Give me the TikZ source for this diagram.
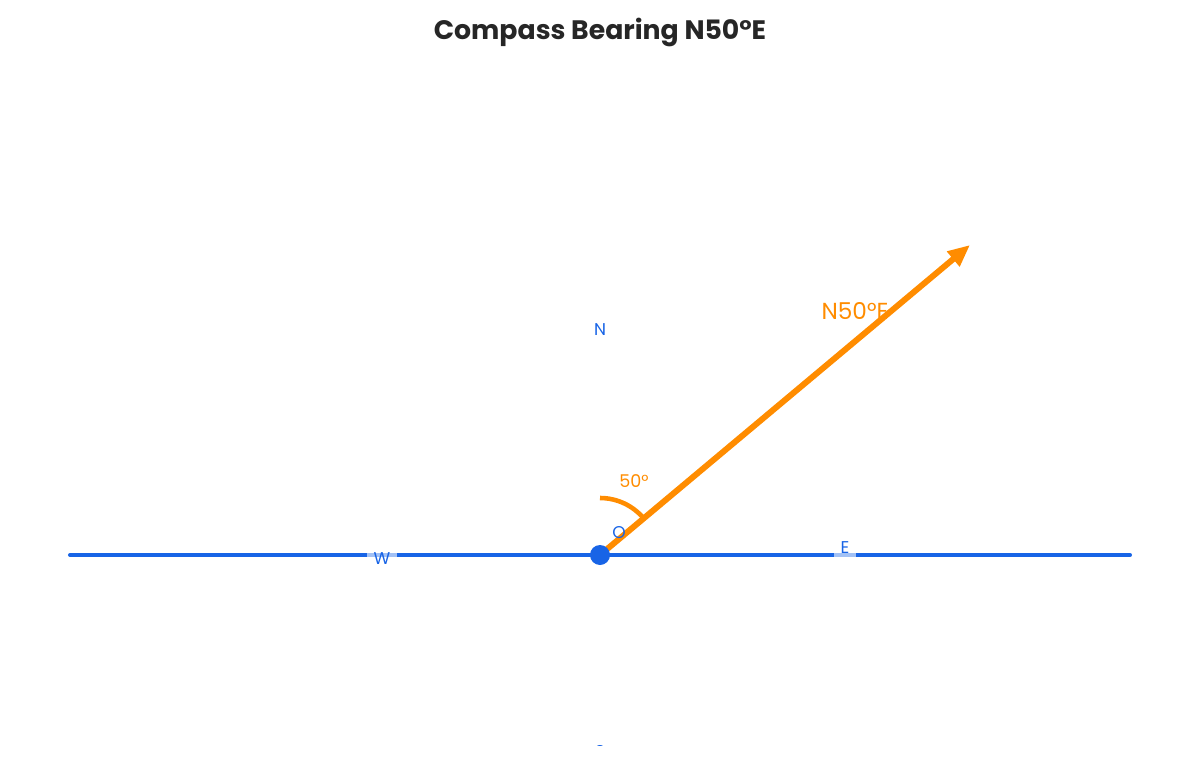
\documentclass[tikz,border=0pt]{standalone}
\usepackage{fontspec}
\setmainfont{Poppins}
\usetikzlibrary{arrows.meta}
\definecolor{axisblue}{RGB}{24,100,230}
\definecolor{bearorange}{RGB}{255,140,0}
\tikzset{
  compass/.style={text=axisblue, font=\fontsize{9.7}{11}\selectfont, inner sep=1pt},
  onaxis/.style={compass, fill=white, fill opacity=0.6, text opacity=1, inner xsep=3.6pt, inner ysep=2pt}
}
\begin{document}
\begin{tikzpicture}[x=0.02cm, y=0.02cm]
  \useasboundingbox (0,0) rectangle (1200,762);
  \node[font=\fontsize{15.2}{18}\selectfont\bfseries, text=black!85] (title) at (600,730) {Compass Bearing N50°E};
  % east-west axis
  \coordinate (west) at (70,207);
  \coordinate (east) at (1130,207);
  \draw[axisblue, line width=2.3pt, line cap=round] (west) -- (east);
  % bearing
  \coordinate (origin) at (600,207);
  \coordinate (tip) at (970,517);
  \draw[bearorange, line width=3.4pt, -{Triangle[length=12.5pt,width=10.5pt]}] (origin) -- (tip);
  \draw[bearorange, line width=2.6pt] (600,264) arc[start angle=90, end angle=40, radius=57];
  \node[circle, fill=axisblue, inner sep=0pt, minimum size=20*0.02cm] (o) at (origin) {};
  % labels
  \node[compass] (n) at (600,432) {N};
  \node[onaxis] (w) at (382,203) {W};
  \node[onaxis] (e) at (845,214) {E};
  \node[compass] (olabel) at (619,229) {O};
  \node[text=bearorange, font=\fontsize{10}{12}\selectfont] (angle) at (634,281) {50°};
  \node[text=bearorange, font=\fontsize{13.2}{16}\selectfont] (bearing) at (855,451) {N50°E};
  \begin{scope}
    \clip (0,17) rectangle (1200,762);
    \node[compass] (s) at (600,10) {S};
  \end{scope}
\end{tikzpicture}
\end{document}
